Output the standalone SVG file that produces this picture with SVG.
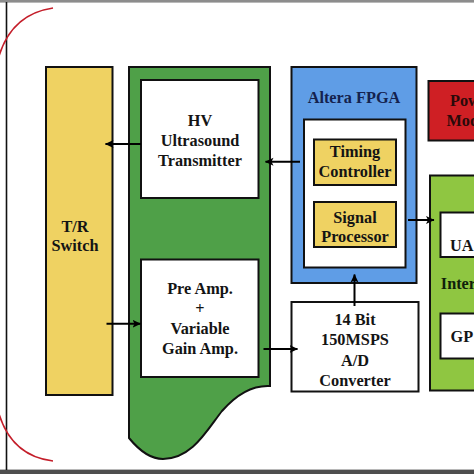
<svg xmlns="http://www.w3.org/2000/svg" width="474" height="474" viewBox="0 0 474 474">
<style>
.bx{stroke:#111;stroke-width:2}
.t{font-family:"Liberation Serif","Times New Roman",serif;font-weight:bold;font-size:16.3px;fill:#141414;text-anchor:middle}
.s{text-anchor:start}
.c{stroke:#000;stroke-width:2;fill:none;marker-end:url(#ah)}
.red{stroke:#c41e2a;stroke-width:1.6;fill:none}
</style>
<defs>
<marker id="ah" markerUnits="userSpaceOnUse" markerWidth="9" markerHeight="9" viewBox="0 0 9 9" refX="8" refY="4.5" orient="auto">
<path d="M0,0.5 L8.5,4.5 L0,8.5 L2,4.5 Z" fill="#000"/>
</marker>
</defs>
<rect width="474" height="474" fill="#fff"/>
<g id="frame">
<rect x="0" y="0" width="474" height="2.6" fill="#8c8c8c"/>
<rect x="0" y="469.6" width="474" height="4.4" fill="#4e4e4e"/>
<line x1="6.5" y1="2" x2="6.5" y2="470" stroke="#111" stroke-width="1.6"/>
<path class="red" d="M53,8 Q12,14 -1,56"/>
<path class="red" d="M-1,414 Q12,456 53,461"/>
</g>
<g id="tr-switch">
<rect class="bx" x="46" y="67" width="66.5" height="328" fill="#efd262"/>
<text class="t" x="75" y="232">T/R</text>
<text class="t" x="75" y="251">Switch</text>
</g>
<g id="analog-board">
<path class="bx" fill="#4fa048" d="M129,67 H270 V386 C252,385 236,395 222,411 C207,430 192,459 163,459 C150,459 138,449 129,438 Z"/>
</g>
<g id="hv-transmitter">
<rect class="bx" x="141" y="80" width="117.5" height="118" fill="#fff"/>
<text class="t" x="200" y="126">HV</text>
<text class="t" x="200" y="146">Ultrasound</text>
<text class="t" x="200" y="166">Transmitter</text>
</g>
<g id="pre-amp">
<rect class="bx" x="141" y="259.5" width="117.5" height="117.5" fill="#fff"/>
<text class="t" x="200" y="294">Pre Amp.</text>
<text class="t" x="200" y="314">+</text>
<text class="t" x="200" y="334">Variable</text>
<text class="t" x="200" y="354">Gain Amp.</text>
</g>
<g id="fpga">
<rect class="bx" x="291.5" y="67" width="125" height="216" fill="#5f9de6"/>
<text class="t" x="354" y="103" style="fill:#14224e">Altera FPGA</text>
<rect class="bx" x="304" y="119.5" width="101.5" height="148" fill="#fff"/>
</g>
<g id="timing-controller">
<rect class="bx" x="314" y="139.5" width="82" height="45.5" fill="#efd262"/>
<text class="t" x="355" y="157">Timing</text>
<text class="t" x="355" y="176.5">Controller</text>
</g>
<g id="signal-processor">
<rect class="bx" x="314" y="202" width="82" height="45" fill="#efd262"/>
<text class="t" x="355" y="222.5">Signal</text>
<text class="t" x="355" y="242">Processor</text>
</g>
<g id="adc">
<rect class="bx" x="291.5" y="302" width="127" height="89.5" fill="#fff"/>
<text class="t" x="355" y="324.5">14 Bit</text>
<text class="t" x="355" y="345">150MSPS</text>
<text class="t" x="355" y="365.5">A/D</text>
<text class="t" x="355" y="385.5">Converter</text>
</g>
<g id="power-module">
<rect class="bx" x="428.5" y="81" width="50" height="59.5" fill="#cf1f24"/>
<text class="t s" x="450" y="106" style="fill:#2a0a0a">Pow</text>
<text class="t s" x="446.5" y="125.5" style="fill:#2a0a0a">Mod</text>
</g>
<g id="interface">
<rect class="bx" x="430" y="175.5" width="50" height="215" fill="#8fc641"/>
<text class="t s" x="440.8" y="289.3" style="fill:#10200a">Inter</text>
</g>
<g id="uart">
<rect class="bx" x="440.5" y="212.5" width="40" height="44.5" fill="#fff"/>
<text class="t s" x="450" y="251">UA</text>
</g>
<g id="gpio">
<rect class="bx" x="440.5" y="313.5" width="40" height="45" fill="#fff"/>
<text class="t s" x="450.5" y="342.3">GP</text>
</g>
<g id="connectors">
<line class="c" x1="141" y1="144" x2="105.5" y2="144"/>
<line class="c" x1="106.5" y1="323.7" x2="140.5" y2="323.7"/>
<line class="c" x1="300" y1="161.7" x2="265.5" y2="161.7"/>
<line class="c" x1="263.5" y1="349" x2="297.5" y2="349"/>
<line class="c" x1="354.5" y1="306" x2="354.5" y2="274.5"/>
<line class="c" x1="408" y1="220" x2="434" y2="220"/>
</g>
</svg>
